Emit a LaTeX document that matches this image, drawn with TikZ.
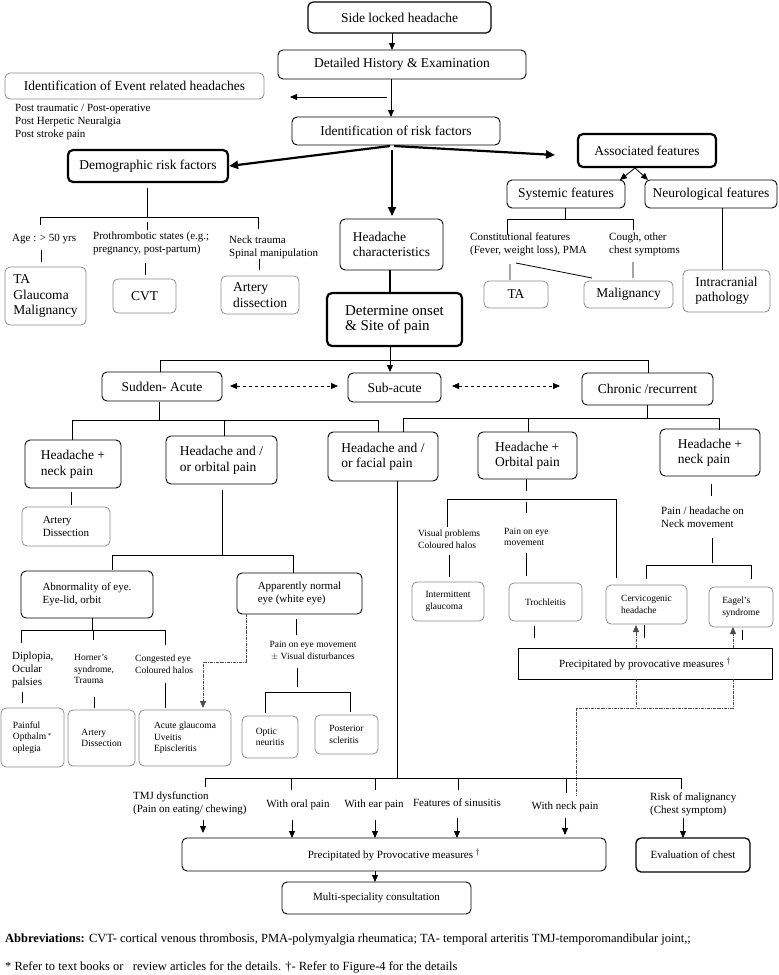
\documentclass[tikz,border=0pt]{standalone}
\usepackage{fontspec}
\setmainfont{Liberation Serif}
\usetikzlibrary{arrows.meta}
\newcommand\bx[7]{\node[#2,minimum width={(#5)-(#3)},minimum height={(#6)-(#4)}] (#1) at ({((#3)+(#5))/2},{((#4)+(#6))/2}) {#7};}
\begin{document}
\begin{tikzpicture}[x=1pt,y=-1pt,
  rbox/.style={draw,rounded corners=5,line width=0.9,inner sep=0,align=left,font=\fontsize{13.5}{15.5}\selectfont},
  tbox/.style={rbox,line width=2.2},
  gbox/.style={rbox,draw=black!45,line width=0.8},
  sbox/.style={font=\fontsize{11}{13}\selectfont},
  xbox/.style={font=\fontsize{9.5}{11.5}\selectfont},
  lbl/.style={inner sep=0,align=left,font=\fontsize{11}{13}\selectfont},
  slbl/.style={lbl,font=\fontsize{9.5}{11.5}\selectfont},
  ln/.style={line width=0.8},
  arr/.style={ln,-{Triangle[length=7,width=6]}},
  fat/.style={line width=2.2,-{Triangle[length=9,width=8]}},
  dd/.style={ln,dashed,{Triangle[length=7,width=6]}-{Triangle[length=7,width=6]}},
  dc/.style={ln,densely dashdotted,black!70}]
\useasboundingbox (0,0) rectangle (779,975);
% top chain
\bx{side}{rbox,line width=1.2}{308}{2}{491}{33}{Side locked headache}
\bx{hist}{rbox}{278}{50}{526}{79}{Detailed History \& Examination}
\bx{event}{gbox}{5}{73}{264}{99}{Identification of Event related headaches}
\node[lbl,anchor=north west] (evl) at (15,104) {Post traumatic / Post-operative\\Post Herpetic Neuralgia\\Post stroke pain};
\bx{risk}{rbox}{292}{117}{500}{145}{Identification of risk factors}
\draw[arr] (392,33) -- (392,50);
\draw[arr] (391,79) -- (391,117);
\draw[arr] (387,97) -- (290,97);
\bx{demo}{tbox}{68}{150}{228}{182}{Demographic risk factors}
\bx{assoc}{tbox}{578}{134}{716}{167}{Associated features}
\draw[fat] (390,146) -- (demo.east);
\draw[fat] (394,146) -- (555,155);
\draw[fat] (392,150) -- (392,216);
\bx{syst}{rbox}{507}{180}{625}{208}{Systemic features}
\bx{neuro}{rbox}{645}{180}{777}{208}{Neurological features}
\draw[arr] (635,168) -- (620,180);
\draw[arr] (635,168) -- (648,180);
\bx{hc}{rbox}{340}{219}{443}{270}{Headache\\characteristics}
\bx{det}{tbox}{327}{293}{462}{346}{\fontsize{15}{18}\selectfont Determine onset\\\fontsize{15}{18}\selectfont\& Site of pain}
\draw[line width=2.2] (390,270) -- (390,293);
% demographic tree
\draw[ln] (147,188) -- (147,217) (40,225) -- (40,217) -- (258,217) -- (258,229) (147,222) -- (147,230);
\node[lbl,anchor=west] (age) at (12,239) {Age : > 50 yrs};
\node[lbl,anchor=north west] (pro) at (93,232) {Prothrombotic states (e.g.;\\pregnancy, post-partum)};
\node[lbl,anchor=north west] (nt) at (229,236) {Neck trauma\\Spinal manipulation};
\draw[ln] (41,250) -- (41,262) (145,263) -- (145,275) (259,259) -- (259,270);
\bx{ta1}{gbox}{5}{267}{86}{325}{TA\\Glaucoma\\Malignancy}
\bx{cvt}{gbox}{113}{279}{176}{313}{CVT}
\bx{ad1}{gbox}{221}{276}{299}{314}{Artery\\dissection}
% systemic tree
\draw[ln] (565,208) -- (565,219) (507,235) -- (507,219) -- (633,219) -- (633,230);
\node[lbl,anchor=north west] (cons) at (470,233) {Constitutional features\\(Fever, weight loss), PMA};
\node[lbl,anchor=north west] (cough) at (609,233) {Cough, other\\chest symptoms};
\draw[ln] (510,264) -- (510,280) (633,262) -- (633,278) (516,263) -- (592,278);
\bx{ta2}{gbox}{484}{281}{548}{308}{TA}
\bx{mal}{gbox}{584}{281}{673}{308}{Malignancy}
\bx{intra}{gbox}{683}{270}{770}{312}{Intracranial\\pathology}
\draw[ln] (722,208) -- (722,270);
% onset
\draw[arr] (390,346) -- (390,372);
\draw[ln] (160,372) -- (160,360) -- (648,360) -- (648,373);
\bx{sud}{rbox}{102}{372}{222}{401}{Sudden- Acute}
\bx{sub}{rbox}{348}{373}{441}{402}{Sub-acute}
\bx{chr}{rbox}{582}{373}{713}{405}{Chronic /recurrent}
\draw[dd] (230,386) -- (338,386);
\draw[dd] (452,386) -- (560,386);
% sudden branch
\draw[ln] (159,402) -- (159,420) (72,440) -- (72,420) -- (378,420) -- (378,432) (224,420) -- (224,436);
\bx{hn1}{rbox}{25}{440}{121}{488}{Headache +\\neck pain}
\bx{hop}{rbox}{166}{436}{277}{484}{Headache and /\\or orbital pain}
\bx{hfp}{rbox}{328}{432}{438}{481}{Headache and /\\or facial pain}
\draw[ln] (71,492) -- (71,505);
\bx{ad2}{gbox,sbox}{22}{507}{110}{546}{Artery\\Dissection}
\draw[ln] (222,490) -- (222,555) (112,570) -- (112,555) -- (293,555) -- (293,573);
\bx{abn}{rbox,sbox}{21}{571}{153}{618}{Abnormality of eye.\\Eye-lid, orbit}
\bx{ane}{rbox,sbox}{237}{573}{362}{614}{Apparently normal\\eye (white eye)}
\draw[ln] (92,618) -- (92,630) (21,643) -- (21,630) -- (165,630) -- (165,645) (93,630) -- (93,640);
\node[lbl,anchor=north west] (dip) at (12,652) {Diplopia,\\Ocular\\palsies};
\node[slbl,anchor=north west] (hor) at (74,654) {Horner's\\syndrome,\\Trauma};
\node[slbl,anchor=north west] (cong) at (135,655) {Congested eye\\Coloured halos};
\draw[ln] (22,692) -- (22,703) (94,697) -- (94,708) (165,683) -- (165,708);
\bx{pop}{gbox,xbox}{1}{708}{64}{767}{Painful\\Opthalm$^{\,*}$\\oplegia}
\bx{ad3}{gbox,xbox}{68}{710}{135}{766}{Artery\\Dissection}
\bx{acg}{gbox,xbox}{139}{710}{231}{766}{Acute glaucoma\\Uveitis\\Episcleritis}
\draw[dc,-{Triangle[length=7,width=6]}] (246,614) -- (246,662) -- (203,662) -- (203,708);
\draw[ln] (296,619) -- (296,635);
\node[slbl,align=center] (pem) at (313,651) {Pain on eye movement\\$\pm$ Visual disturbances};
\draw[ln] (297,668) -- (297,687) (265,713) -- (265,692) -- (350,692) -- (350,712);
\bx{opt}{gbox,xbox}{242}{716}{298}{758}{Optic\\neuritis}
\bx{psc}{gbox,xbox}{315}{715}{378}{754}{Posterior\\scleritis}
% chronic branch
\draw[ln] (647,405) -- (647,418) (403,432) -- (403,418) -- (719,418) -- (719,430) (528,418) -- (528,432);
\bx{hor2}{rbox}{478}{432}{577}{479}{Headache +\\Orbital pain}
\bx{hnc}{rbox}{660}{429}{760}{476}{Headache +\\neck pain}
\draw[ln] (526,479) -- (526,491) (447,527) -- (447,499) -- (616,499) -- (616,578) (526,502) -- (526,513);
\node[slbl,anchor=north west] (vis) at (418,530) {Visual problems\\Coloured halos};
\node[slbl,anchor=north west] (pem2) at (504,528) {Pain on eye\\movement};
\draw[ln] (449,555) -- (449,577) (526,553) -- (526,576);
\bx{intg}{gbox,xbox}{412}{582}{484}{621}{Intermittent\\glaucoma}
\bx{tro}{gbox,xbox}{509}{583}{582}{621}{Trochleitis}
\bx{cer}{gbox,xbox}{606}{585}{687}{624}{Cervicogenic\\headache}
\bx{eag}{gbox,xbox}{709}{587}{773}{627}{Eagel's\\syndrome}
\draw[ln] (711,484) -- (711,496);
\node[lbl,anchor=north west] (phn) at (661,507) {Pain / headache on\\Neck movement};
\draw[ln] (712,538) -- (712,563) (646,579) -- (646,565) -- (751,565) -- (751,579);
\draw[ln] (534,626) -- (534,638) (644,625) -- (644,638) (742,630) -- (742,640);
\bx{pre1}{draw,line width=0.9,inner sep=0,sbox}{518}{648}{772}{679}{Precipitated by provocative measures $^{\dagger}$}
\draw[dc,-{Triangle[length=7,width=6]}] (636,648) -- (636,625);
\draw[dc,-{Triangle[length=7,width=6]}] (733,648) -- (733,627);
\draw[dc] (733,679) -- (733,708) -- (576,708) -- (576,795) (636,679) -- (636,708);
% facial / bottom tree
\draw[ln] (397,481) -- (397,778) (205,787) -- (205,778) -- (681,778) -- (681,789);
\draw[ln] (291,778) -- (291,790) (375,778) -- (375,790) (458,778) -- (458,790) (566,778) -- (566,793);
\node[lbl,anchor=north west] (tmj) at (133,792) {TMJ dysfunction\\(Pain on eating/ chewing)};
\node[lbl] (oral) at (298,805) {With oral pain};
\node[lbl] (ear) at (374,805) {With ear pain};
\node[lbl] (sin) at (457,803) {Features of sinusitis};
\node[lbl] (neck) at (565,807) {With neck pain};
\node[lbl,anchor=north west] (rom) at (650,793) {Risk of malignancy\\(Chest symptom)};
\bx{pre2}{rbox,sbox,align=center}{182}{838}{606}{871}{Precipitated by Provocative measures $^{\dagger}$}
\bx{chest}{rbox,sbox,line width=1.3}{636}{838}{750}{872}{Evaluation of chest}
\draw[arr] (203,820) -- (203,833);
\draw[arr] (292,820) -- (292,838);
\draw[arr] (375,820) -- (375,838);
\draw[arr] (457,818) -- (457,838);
\draw[arr] (565,818) -- (565,835);
\draw[arr] (683,818) -- (683,838);
\bx{multi}{rbox,sbox}{282}{882}{471}{914}{Multi-speciality consultation}
\draw[arr] (375,871) -- (375,882);
\node[lbl,anchor=west,font=\fontsize{12.5}{14}\selectfont] (abbr) at (5,939) {\textbf{Abbreviations:} CVT- cortical venous thrombosis, PMA-polymyalgia rheumatica; TA- temporal arteritis TMJ-temporomandibular joint,;};
\node[lbl,anchor=west,font=\fontsize{12.5}{14}\selectfont] (foot) at (5,967) {* Refer to text books or \ \ review articles for the details. \dag- Refer to Figure-4 for the details};
\end{tikzpicture}
\end{document}
